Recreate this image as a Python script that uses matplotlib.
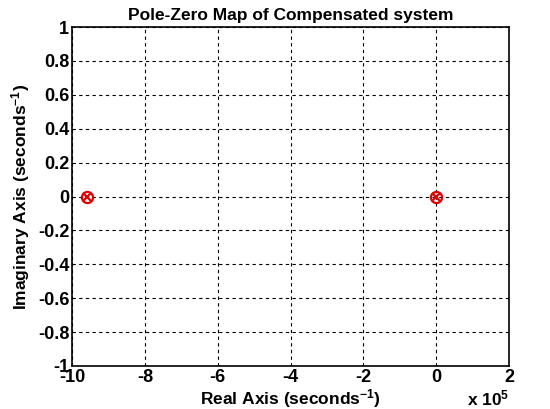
import numpy as np
import matplotlib
matplotlib.use("Agg")
import matplotlib.pyplot as plt

plt.rcParams['font.family'] = ['Liberation Sans', 'DejaVu Sans']
plt.rcParams['font.weight'] = 'bold'
plt.rcParams['mathtext.fontset'] = 'custom'
plt.rcParams['mathtext.bf'] = 'Liberation Sans:bold'
plt.rcParams['mathtext.rm'] = 'Liberation Sans:bold'
plt.rcParams['mathtext.default'] = 'bf'

# poles and zeros of the compensated system (real, imag)
pole_re = [-9.58e5, 0.0]
pole_im = [0.0, 0.0]
zero_re = [-9.58e5, 0.0]
zero_im = [0.0, 0.0]

xticks = [-10, -8, -6, -4, -2, 0, 2]
yticks = [-1, -0.8, -0.6, -0.4, -0.2, 0, 0.2, 0.4, 0.6, 0.8, 1]

fig = plt.figure(figsize=(5.5, 4.09), dpi=100)
ax = fig.add_axes([72 / 550, 1 - 366 / 409, (509 - 72) / 550, (366 - 27) / 409])

scale = 1e5
ax.plot(np.array(zero_re) / scale, zero_im, 'o', mfc='none', mec='#e00000', ms=8, mew=1.6)
ax.plot(np.array(pole_re) / scale, pole_im, 'x', color='#e00000', ms=6, mew=1.6)

ax.set_xlim(-10, 2)
ax.set_ylim(-1, 1)
ax.set_xticks(xticks)
ax.set_yticks(yticks)
ax.set_xticklabels([str(t) for t in xticks])
ax.set_yticklabels(['%g' % t for t in yticks])
ax.tick_params(labelsize=13, length=0, pad=2)
ax.grid(True, color='black', linestyle=(0, (3, 3)), linewidth=0.8)
for s in ax.spines.values():
    s.set_linewidth(1.2)

ax.set_title('Pole-Zero Map of Compensated system', fontsize=12.5, fontweight='bold', pad=5)
ax.set_xlabel('Real Axis (seconds$^{-1}$)', fontsize=12.5, fontweight='bold', va='center')
ax.xaxis.set_label_coords(0.5, -0.096)
ax.set_ylabel('Imaginary Axis (seconds$^{-1}$)', fontsize=12.5, fontweight='bold', labelpad=4)
ax.text(1.0, -0.096, 'x 10$^{5}$', transform=ax.transAxes, ha='right', va='center',
        fontsize=12.5, fontweight='bold')

fig.savefig('out.png', dpi=100)
